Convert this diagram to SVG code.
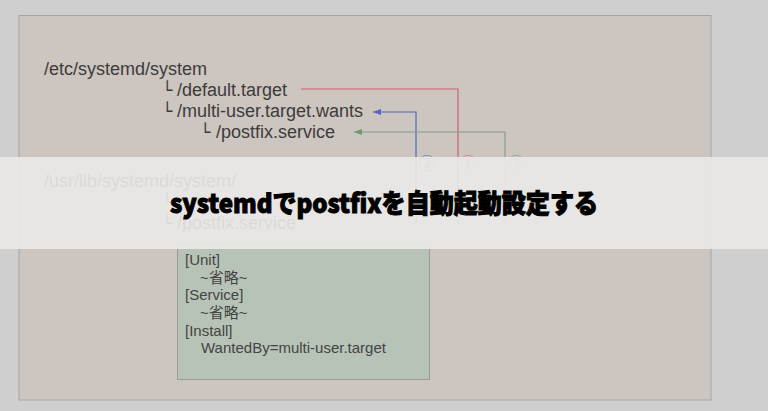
<svg xmlns="http://www.w3.org/2000/svg" width="768" height="411" viewBox="0 0 768 411">
<defs>
<style>
.t{font-family:"Liberation Sans","Noto Sans CJK JP",sans-serif;font-size:18px;fill:#3c3c3c}
.b{font-family:"DejaVu Sans","Liberation Sans",sans-serif;font-size:17px;fill:#3c3c3c}
.s{font-family:"Liberation Sans","Noto Sans CJK JP",sans-serif;font-size:15px;fill:#444}
.n{font-family:"Noto Sans CJK JP","DejaVu Sans",sans-serif;font-size:16px}
.ln{fill:none;stroke-width:1.2}
</style>
<marker id="ab" viewBox="0 0 8 6" refX="8" refY="3" markerWidth="8" markerHeight="6" orient="auto-start-reverse" markerUnits="userSpaceOnUse"><path d="M0,0L8,3L0,6z" fill="#5566c0"/></marker>
<marker id="ag" viewBox="0 0 8 6" refX="8" refY="3" markerWidth="8" markerHeight="6" orient="auto-start-reverse" markerUnits="userSpaceOnUse"><path d="M0,0L8,3L0,6z" fill="#6f9a6f"/></marker>
</defs>
<rect x="0" y="0" width="768" height="411" fill="#cfcfcf"/>
<g id="panel">
<rect x="19" y="15.5" width="692" height="384.5" fill="#cdc5bf" stroke="#a6a6a6" stroke-width="1"/>
</g>
<g id="etc">
<text class="t" x="44" y="75">/etc/systemd/system</text>
<text class="b" x="162" y="96">└</text><text class="t" x="177" y="96">/default.target</text>
<text class="b" x="162" y="117">└</text><text class="t" x="177" y="117">/multi-user.target.wants</text>
<text class="b" x="200" y="138">└</text><text class="t" x="216" y="138">/postfix.service</text>
</g>
<g id="usrlib">
<text class="t" x="44" y="187">/usr/lib/systemd/system/</text>
<text class="b" x="162" y="208">└</text>
<text class="b" x="162" y="229">└</text><text class="t" x="177" y="229">/postfix.service</text>
</g>
<g id="connectors">
<path class="ln" d="M301,89H458V225" stroke="#d0606e"/>
<path class="ln" d="M416,225V112H373" stroke="#5566c0" marker-end="url(#ab)"/>
<path class="ln" d="M505,225V132H354" stroke="#86a086" marker-end="url(#ag)"/>
<text class="n" x="419" y="169" fill="#5566c0">②</text>
<text class="n" x="460" y="169" fill="#d0606e">①</text>
<text class="n" x="508" y="169" fill="#6f9a6f">③</text>
</g>
<g id="unitfile">
<rect x="177.5" y="243.5" width="252" height="136" fill="#b7c3b7" stroke="#9a9a9a" stroke-width="1"/>
<text class="s" x="185" y="265">[Unit]</text>
<text class="s" x="200" y="283">~省略~</text>
<text class="s" x="185" y="300">[Service]</text>
<text class="s" x="200" y="318">~省略~</text>
<text class="s" x="185" y="336">[Install]</text>
<text class="s" x="201" y="353">WantedBy=multi-user.target</text>
</g>
<g id="banner">
<rect x="0" y="157" width="768" height="92" fill="#eae9e8" fill-opacity="0.91"/>
<text x="384" y="213" text-anchor="middle" textLength="428" lengthAdjust="spacingAndGlyphs" style="font-family:'Noto Sans CJK JP',sans-serif;font-weight:900;font-size:26px;fill:#000;stroke:#000;stroke-width:1">systemdでpostfixを自動起動設定する</text>
</g>
</svg>
